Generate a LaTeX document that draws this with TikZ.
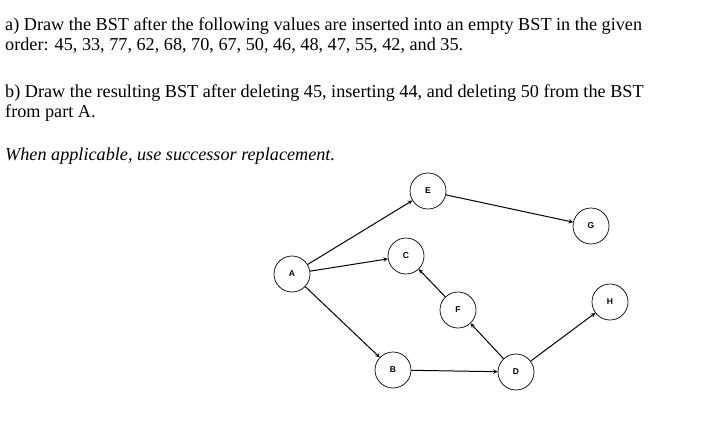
\documentclass[tikz,border=0pt]{standalone}
\usepackage{fontspec}
\setmainfont{Liberation Serif}
\newfontfamily\lab{Liberation Sans}
\begin{document}
\begin{tikzpicture}[x=1pt,y=-1pt,
  v/.style={circle,draw,line width=0.7pt,minimum size=36pt,inner sep=0pt,font=\lab\bfseries\fontsize{8.5}{8.5}\selectfont},
  txt/.style={anchor=base west,inner sep=0pt,font=\fontsize{18.2}{20}\selectfont},
  e/.style={->,>=stealth,line width=1pt}]
\useasboundingbox (0,0) rectangle (703,432);
\node[txt] (t1) at (5,30) {a) Draw the BST after the following values are inserted into an empty BST in the given};
\node[txt] (t2) at (5,50) {order: 45, 33, 77, 62, 68, 70, 67, 50, 46, 48, 47, 55, 42, and 35.};
\node[txt] (t3) at (5,97) {b) Draw the resulting BST after deleting 45, inserting 44, and deleting 50 from the BST};
\node[txt] (t4) at (5,117) {from part A.};
\node[txt] (t5) at (5,160) {\itshape When applicable, use successor replacement.};
\node[v] (A) at (292,274) {A};
\node[v] (E) at (428,191) {E};
\node[v] (G) at (591,226) {G};
\node[v] (C) at (406,256) {C};
\node[v] (F) at (458,310) {F};
\node[v] (B) at (393,370) {B};
\node[v] (D) at (516,372) {D};
\node[v] (H) at (610,302) {H};
\draw[e] (A) -- (E);
\draw[e] (A) -- (C);
\draw[e] (A) -- (B);
\draw[e] (E) -- (G);
\draw[e] (B) -- (D);
\draw[e] (D) -- (F);
\draw[e] (F) -- (C);
\draw[e] (D) -- (H);
\end{tikzpicture}
\end{document}
